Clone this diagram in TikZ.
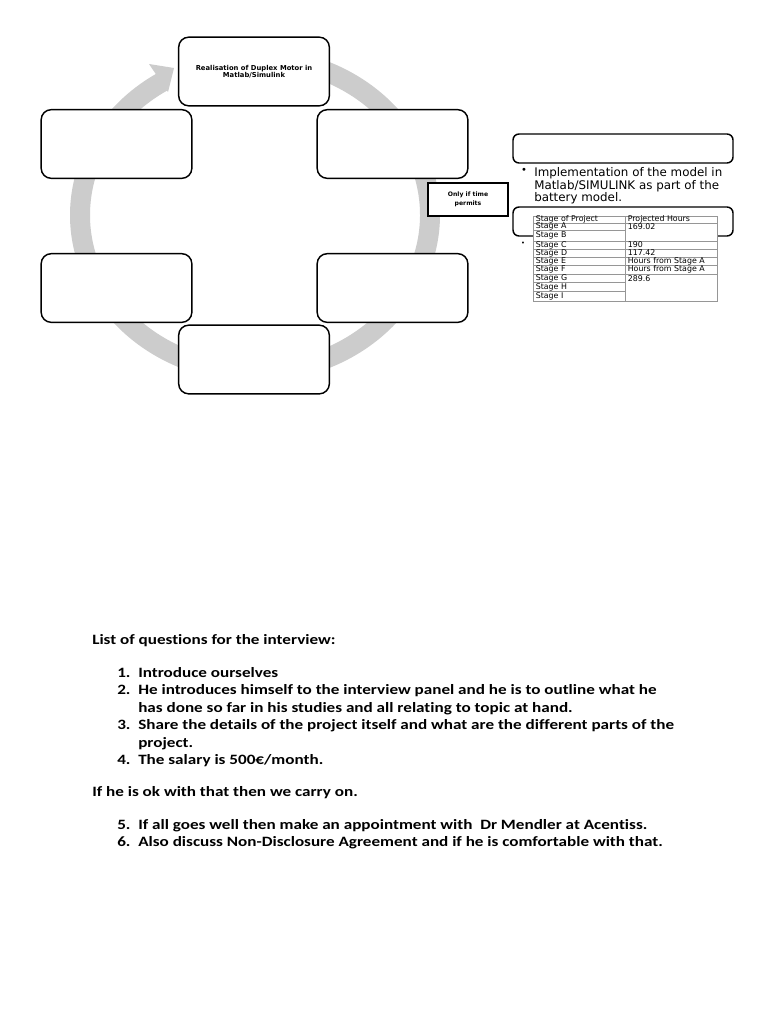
\documentclass[tikz,border=0pt]{standalone}
\usepackage{fontspec}
\usepackage{tikz}
\usetikzlibrary{positioning, arrows}
\newfontfamily\boxfont{DejaVu Sans}
\newfontfamily\listfont[FakeStretch=1.2, Ligatures=NoCommon]{Carlito}
\definecolor{ringgray}{RGB}{204,204,204}
\definecolor{tablegray}{RGB}{150,150,150}
\tikzstyle{stagebox}=[draw, line width=1.1pt, rounded corners=7.5pt, fill=white, minimum width=113pt, minimum height=51.5pt, inner sep=1pt, align=center, font=\boxfont\bfseries\fontsize{5.1}{5}\selectfont]
\tikzstyle{sidebox}=[draw, line width=1.1pt, rounded corners=4.5pt, fill=white, minimum width=165pt, minimum height=21.75pt]
\tikzstyle{notebox}=[draw, line width=0.8pt, fill=white, minimum width=60pt, minimum height=24.75pt, align=center, font=\boxfont\bfseries\fontsize{4.6}{6.5}\selectfont]
\tikzstyle{cell}=[anchor=west, inner sep=0pt, font=\boxfont\fontsize{5.9}{6}\selectfont]
\tikzstyle{qline}=[anchor=base west, inner sep=0pt, font=\listfont\bfseries\fontsize{10.7}{13}\selectfont]
\tikzstyle{ring}=[draw=ringgray, line width=15pt]

\begin{document}
\begin{tikzpicture}[x=0.75pt, y=-0.75pt]
\useasboundingbox (0,0) rectangle (768,1024);
\fill[white] (0,0) rectangle (768,1024);
\coordinate (ctr) at (255,215);
\draw[ring] (ctr) ++(-85:175 and 157) arc[start angle=-85, end angle=238, x radius=175, y radius=157];
\fill[ringgray] (149,64) -- (174,68) -- (168,92) -- cycle;
\node [stagebox] (top) at (254,71.5) {Realisation of Duplex Motor in\\Matlab/Simulink};
\node [stagebox, below of=top, node distance=216pt] (bottom) {};
\node [stagebox] (ul) at (116.5,144) {};
\node [stagebox, below of=ul, node distance=108pt] (ll) {};
\node [stagebox, right of=ul, node distance=207pt] (ur) {};
\node [stagebox, right of=ll, node distance=207pt] (lr) {};
\node [notebox] (note) at (468,199.5) {Only if time\\permits};
\node [sidebox] (goal) at (623,148.5) {};
\node [sidebox, below of=goal, node distance=54.75pt] (plan) {};
\node (bul1) at (524,171) [inner sep=0pt, font=\boxfont\fontsize{7.5}{7.2}\selectfont] {•};
\node (impl) [anchor=north west, align=left, inner sep=0pt, font=\boxfont\fontsize{8.9}{7.2}\selectfont] at (534,167) {Implementation of the model in\\Matlab/SIMULINK as part of the\\battery model.};
\node (bul2) at (523,243.5) [inner sep=0pt, font=\boxfont\fontsize{5}{6}\selectfont] {•};
\fill[white] (533,216) rectangle (717,301.5);
\draw[tablegray, line width=0.5pt] (533,216) rectangle (717,301.5) (625,216) -- (625,301.5);
\foreach \yy in {223,230,241,249,257,265.5,274,282.5,291.5}
  \draw[tablegray, line width=0.5pt] (533,\yy) -- (625,\yy);
\foreach \yy in {223,241,249,257,265.5,274}
  \draw[tablegray, line width=0.5pt] (625,\yy) -- (717,\yy);
\foreach \lbl/\yy [count=\i] in {Stage of Project/219.5, Stage A/226.5, Stage B/235.5, Stage C/245, Stage D/253, Stage E/261.25, Stage F/269.75, Stage G/278.25, Stage H/287, Stage I/296.5}
  \node [cell] (stage\i) at (535.5,\yy) {\lbl};
\foreach \lbl/\yy [count=\i] in {Projected Hours/219.5, 169.02/226.5, 190/245, 117.42/253, Hours from Stage A/261.25, Hours from Stage A/269.75, 289.6/278.25}
  \node [cell] (hours\i) at (627.5,\yy) {\lbl};
\node [qline] (qhead) at (92,644) {List of questions for the interview:};
\foreach \n/\yy/\txt in {1/677/{Introduce ourselves}, 2/694/{He introduces himself to the interview panel and he is to outline what he}, 3/729/{Share the details of the project itself and what are the different parts of the}, 4/764/{The salary is 500€/month.}, 5/829/{If all goes well then make an appointment with~ Dr Mendler at Acentiss.}, 6/846/{Also discuss Non-Disclosure Agreement and if he is comfortable with that.}}{
  \node [qline] (num\n) at (117,\yy) {\n.};
  \node [qline] (item\n) at (138,\yy) {\txt};
}
\node [qline] (item2b) at (138,712) {has done so far in his studies and all relating to topic at hand.};
\node [qline] (item3b) at (138,747) {project.};
\node [qline] (carry) at (92,796) {If he is ok with that then we carry on.};
\end{tikzpicture}
\end{document}
